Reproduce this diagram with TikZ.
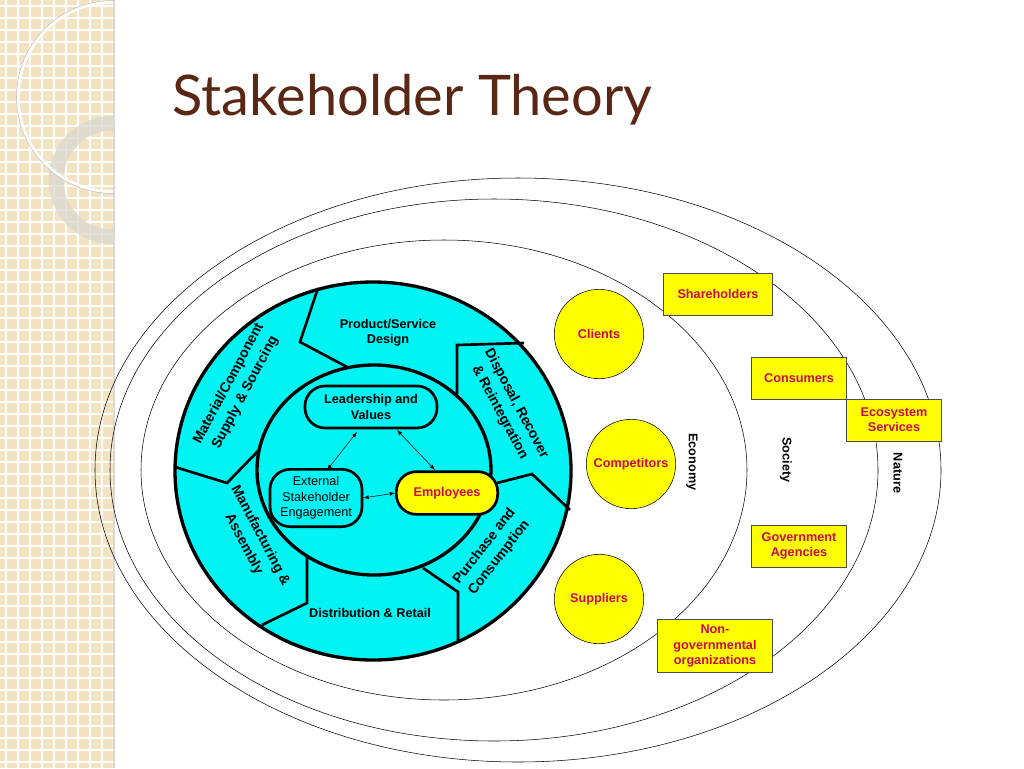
\documentclass[tikz,border=0pt]{standalone}
\usepackage{fontspec}
\setmainfont{Liberation Sans}
\newfontfamily\titlefont{Lato}
\usetikzlibrary{shapes.geometric}
\definecolor{strip}{HTML}{F3E3C3}
\definecolor{ring}{HTML}{DCD8D0}
\definecolor{titlebrown}{HTML}{5B2715}
\definecolor{cyanfill}{HTML}{00F4F4}
\definecolor{yel}{HTML}{FFFF00}
\definecolor{redtext}{HTML}{CC0A4A}
\tikzset{
  lbl/.style={font=\fontsize{9.5}{11.5}\selectfont\bfseries, align=center, inner sep=1pt},
  turned/.style={lbl, font=\fontsize{10.5}{14}\selectfont\bfseries, rotate=#1},
  stake/.style={lbl, text=redtext},
  ball/.style={stake, circle, draw, fill=yel, minimum size=67pt},
  tag/.style={stake, draw=black!70, fill=yel, minimum width=#1, minimum height=31.5pt},
  hub/.style={lbl, draw, line width=2pt, rounded corners=15pt, fill=cyanfill},
  divider/.style={line width=2pt, line join=miter},
  link/.style={<->, >=latex, thin}
}
\begin{document}
\begin{tikzpicture}[x=0.75pt, y=-0.75pt]
    \useasboundingbox (0,0) rectangle (1024,768);
    % side strip
    \fill[strip] (0,0) rectangle (113,768);
    \foreach \g in {6,18,...,768}
        \draw[white, line width=0.8pt] (0,\g)--(113,\g);
    \foreach \g in {6,18,...,112}
        \draw[white, line width=0.8pt] (\g,0)--(\g,768);
    \begin{scope}
        \clip (0,0) rectangle (113,768);
        \draw[ring, line width=11pt, opacity=.8] (113,180) circle[radius=57];
        \draw[white, line width=2.5pt] (113,97) circle[radius=95];
        \draw[black!25, thin] (113,97) circle[radius=96.5];
    \end{scope}
    \draw[black!15, line width=2pt] (114,0)--(114,768);
    \node[text=titlebrown, font=\titlefont\fontsize{42}{46}\selectfont, anchor=west] (title) at (168,100) {Stakeholder Theory};

    % outer rings
    \coordinate (nat) at (518,470);
    \coordinate (soc) at (494,470);
    \coordinate (eco) at (444,470);
    \draw[thin] (nat) ellipse[x radius=423, y radius=292];
    \draw[thin] (soc) ellipse[x radius=384, y radius=271];
    \draw[thin] (eco) ellipse[x radius=303, y radius=230];
    \node[lbl, rotate=-90] (economy) at (692,462) {Economy};
    \node[lbl, rotate=-90] (society) at (786,460) {Society};
    \node[lbl, rotate=-90] (nature) at (898,473) {Nature};

    % life cycle wheel
    \coordinate (wheel) at (373,471);
    \draw[line width=2.5pt, fill=cyanfill] (wheel) ellipse[x radius=198, y radius=189];
    \draw[divider] (318,288)--(300,342)--(347,367);
    \draw[divider] (524,343)--(457,345)--(457,394);
    \draw[divider] (497,483)--(532,474)--(570,510);
    \draw[divider] (423,568)--(458,592)--(458,640);
    \draw[divider] (307,557)--(307,603)--(262,625);
    \draw[divider] (175,467)--(227,483)--(259,450);
    \draw[line width=2.5pt] (374,470) ellipse[x radius=117, y radius=105];
    \node[lbl] (design) at (388,333) {Product/Service\\Design};
    \node[turned=62] (sourcing) at (237,388) {Material/Component\\Supply \& Sourcing};
    \node[turned=-62] (disposal) at (508,408) {Disposal, Recover\\\& Reintegration};
    \node[turned=-62] (making) at (252,540) {Manufacturing \&\\Assembly};
    \node[turned=52] (purchase) at (492,552) {Purchase and\\Consumption};
    \node[lbl] (retail) at (370,613) {Distribution \& Retail};

    % core
    \node[hub, minimum width=99pt, minimum height=31.5pt] (lead) at (371,407) {Leadership and\\Values};
    \node[hub, font=\fontsize{9.5}{11.5}\selectfont, minimum width=69pt, minimum height=43pt] (external) at (316,498) {External\\Stakeholder\\Engagement};
    \node[hub, fill=yel, text=redtext, minimum width=76pt, minimum height=32pt] (employees) at (447,493) {Employees};
    \draw[link] (357,432)--(327,470);
    \draw[link] (397,430)--(435,470);
    \draw[link] (external.east)--(employees.west);

    % stakeholders
    \node[ball] (clients) at (599,334) {Clients};
    \node[ball] (competitors) at (631,464) {Competitors};
    \node[ball] (suppliers) at (599,599) {Suppliers};
    \node[tag=82pt] (shareholders) at (718,294) {Shareholders};
    \node[tag=71pt] (consumers) at (799,378) {Consumers};
    \node[tag=71pt] (ecosystem) at (894,420) {Ecosystem\\Services};
    \node[tag=71pt] (government) at (799,546) {Government\\Agencies};
    \node[tag=86pt, minimum height=40pt] (ngo) at (715,646) {Non-\\governmental\\organizations};
\end{tikzpicture}
\end{document}
